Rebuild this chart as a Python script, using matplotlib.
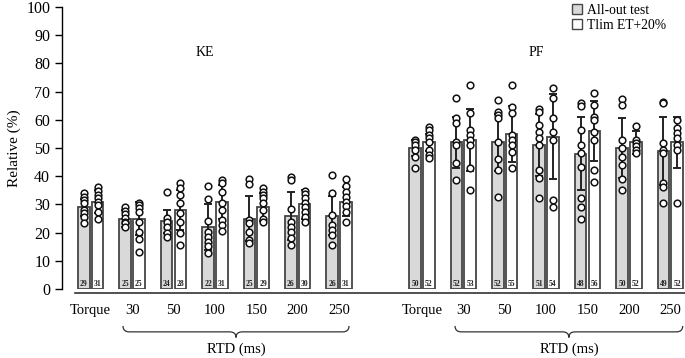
import numpy as np
import matplotlib
matplotlib.use("Agg")
import matplotlib.pyplot as plt
from matplotlib.patches import Patch, PathPatch
from matplotlib.path import Path
from matplotlib.transforms import blended_transform_factory

plt.rcParams['font.family'] = ['Liberation Serif', 'DejaVu Serif']

# categories
tick_labels = ["Torque", "30", "50", "100", "150", "200", "250"]
muscles = ["KE", "PF"]

# means (numbers printed in the bars)
ke_allout = [29, 25, 24, 22, 25, 26, 26]
ke_tlim = [31, 25, 28, 31, 29, 30, 31]
pf_allout = [50, 52, 52, 51, 48, 50, 49]
pf_tlim = [52, 53, 55, 54, 56, 52, 52]

# standard deviations
ke_allout_sd = [3, 3, 4, 8, 8, 8.5, 7]
ke_tlim_sd = [4, 6, 7, 6, 5, 5, 5]
pf_allout_sd = [3, 9, 10, 11, 13, 10.5, 12]
pf_tlim_sd = [3, 11, 10, 15, 10.5, 4, 9]

# individual values
ke_allout_pts = [
    [33.9, 32.6, 31.6, 30.4, 28.0, 26.8, 25.6, 23.4],
    [29.0, 27.8, 26.6, 25.1, 23.9, 23.3, 22.1],
    [34.5, 25.1, 23.9, 22.1, 19.7, 18.3],
    [36.5, 31.8, 24.2, 20.3, 18.5, 16.8, 15.2, 12.9],
    [38.9, 37.2, 24.5, 23.3, 20.3, 17.4, 16.4],
    [39.6, 38.7, 28.3, 23.9, 22.1, 20.3, 18.0, 15.6],
    [40.4, 34.1, 26.2, 22.7, 20.9, 19.1, 15.6],
]
ke_tlim_pts = [
    [36.3, 34.9, 33.3, 32.2, 31.0, 29.8, 27.4, 24.7],
    [30.4, 29.8, 28.6, 27.4, 23.9, 20.3, 17.6, 13.2],
    [37.5, 35.7, 33.3, 30.4, 26.8, 23.9, 19.7, 15.6],
    [38.7, 37.5, 34.5, 30.4, 28.0, 24.5, 22.7, 20.7],
    [35.7, 34.5, 33.3, 32.2, 30.4, 28.0, 24.7, 23.9],
    [34.9, 33.7, 32.2, 30.6, 29.2, 27.4, 25.6, 23.9],
    [38.9, 36.5, 34.5, 32.5, 31.0, 29.4, 27.4, 23.9],
]
pf_allout_pts = [
    [53.0, 52.2, 51.1, 49.3, 46.9, 42.8],
    [67.6, 60.5, 58.8, 52.2, 51.1, 44.6, 38.7],
    [67.0, 62.9, 61.7, 60.5, 52.2, 46.0, 42.2, 32.7],
    [64.0, 62.9, 58.2, 55.8, 53.4, 51.1, 42.2, 39.3, 32.2],
    [65.8, 64.9, 56.4, 51.1, 48.1, 43.4, 32.2, 29.2, 25.0],
    [67.3, 65.2, 52.8, 49.9, 46.9, 44.0, 38.9, 35.1],
    [66.4, 65.8, 51.7, 49.3, 48.3, 37.5, 36.1, 30.4],
]
pf_tlim_pts = [
    [57.6, 56.4, 54.6, 53.4, 52.2, 49.3, 47.5, 46.3],
    [72.3, 62.3, 56.4, 54.6, 52.8, 51.1, 42.8, 35.1],
    [72.3, 64.4, 62.3, 54.6, 52.8, 51.1, 48.7, 42.8],
    [71.2, 67.6, 60.5, 55.8, 52.8, 31.6, 29.2],
    [69.4, 65.2, 61.1, 59.9, 55.8, 52.8, 42.2, 38.0],
    [57.8, 52.8, 51.9, 50.7, 49.3, 48.3],
    [59.9, 57.0, 55.2, 53.4, 51.1, 49.3, 30.4],
]

fig = plt.figure(figsize=(6.85, 3.58), dpi=100)
ax = fig.add_axes([62 / 685, 69 / 358, 623 / 685, 282 / 358])

pos_ke = np.arange(7)
pos_pf = np.arange(7) + 8
w = 0.28
off = 0.165
edge = "#454545"

groups = [
    (pos_ke, ke_allout, ke_allout_sd, ke_allout_pts, ke_tlim, ke_tlim_sd, ke_tlim_pts),
    (pos_pf, pf_allout, pf_allout_sd, pf_allout_pts, pf_tlim, pf_tlim_sd, pf_tlim_pts),
]

for pos, m1, s1, p1, m2, s2, p2 in groups:
    for xs, m, s, pts, fc in [(pos - off, m1, s1, p1, "#d9d9d9"), (pos + off, m2, s2, p2, "white")]:
        ax.bar(xs, m, width=w, color=fc, edgecolor=edge, linewidth=1.3, zorder=2)
        ax.errorbar(xs, m, yerr=s, fmt="none", ecolor="#222222", elinewidth=1.4,
                    capsize=3, capthick=1.4, zorder=3)
        for x, vals in zip(xs, pts):
            ax.plot([x] * len(vals), vals, "o", ms=4.8, mfc="white", mec="#111111",
                    mew=1.1, zorder=4, linestyle="none")
        for x, v in zip(xs, m):
            ax.text(x, 1.8, str(v), ha="center", va="center", fontsize=5.5,
                    fontweight="bold", color="#222222", zorder=5)

ax.set_xlim(-0.693, 14.355)
ax.set_ylim(0, 100)
ax.set_yticks(np.arange(0, 101, 10))
ax.tick_params(axis="y", labelsize=11.5, length=5, width=1, direction="out")
ax.set_xticks(np.concatenate([pos_ke, pos_pf]))
ax.set_xticklabels(tick_labels + tick_labels, fontsize=10.5)
ax.tick_params(axis="x", length=0, pad=11)
for sp in ["top", "right", "bottom"]:
    ax.spines[sp].set_visible(False)
ax.spines["left"].set_linewidth(1)
ax.set_ylabel("Relative (%)", fontsize=11, labelpad=4)

# baseline under the bars
ax.plot([-0.38, 14.4], [-1.4, -1.4], color="#333333", lw=1.2, clip_on=False)

ax.text(2.76, 84, muscles[0], ha="center", va="center", fontsize=10)
ax.text(10.76, 84, muscles[1], ha="center", va="center", fontsize=10)

# braces under the RTD ticks
trans = blended_transform_factory(ax.transData, ax.transAxes)


def brace(x0, x1, ytop=-0.131, ymid=-0.152, ytip=-0.172, d=0.15):
    xm = (x0 + x1) / 2
    verts = [(x0, ytop), (x0, ymid), (x0 + d, ymid),
             (xm - d, ymid), (xm, ymid), (xm, ytip),
             (xm, ymid), (xm + d, ymid),
             (x1 - d, ymid), (x1, ymid), (x1, ytop)]
    codes = [Path.MOVETO, Path.CURVE3, Path.CURVE3,
             Path.LINETO, Path.CURVE3, Path.CURVE3,
             Path.CURVE3, Path.CURVE3,
             Path.LINETO, Path.CURVE3, Path.CURVE3]
    ax.add_patch(PathPatch(Path(verts, codes), fill=False, lw=0.9, ec="#333333",
                           transform=trans, clip_on=False))
    ax.text(xm, -0.215, "RTD (ms)", ha="center", va="center", fontsize=10.5,
            transform=trans, clip_on=False)


brace(0.78, 6.24)
brace(8.8, 14.3)

handles = [Patch(facecolor="#d9d9d9", edgecolor=edge, lw=1, label="All-out test"),
           Patch(facecolor="white", edgecolor=edge, lw=1, label="Tlim ET+20%")]
fig.legend(handles=handles, loc="upper left", bbox_to_anchor=(567 / 685, 1.005),
           frameon=False, fontsize=9.8, handlelength=0.7, handleheight=0.7,
           handletextpad=0.4, labelspacing=0.15, borderaxespad=0)

fig.savefig("out.png", dpi=100)
